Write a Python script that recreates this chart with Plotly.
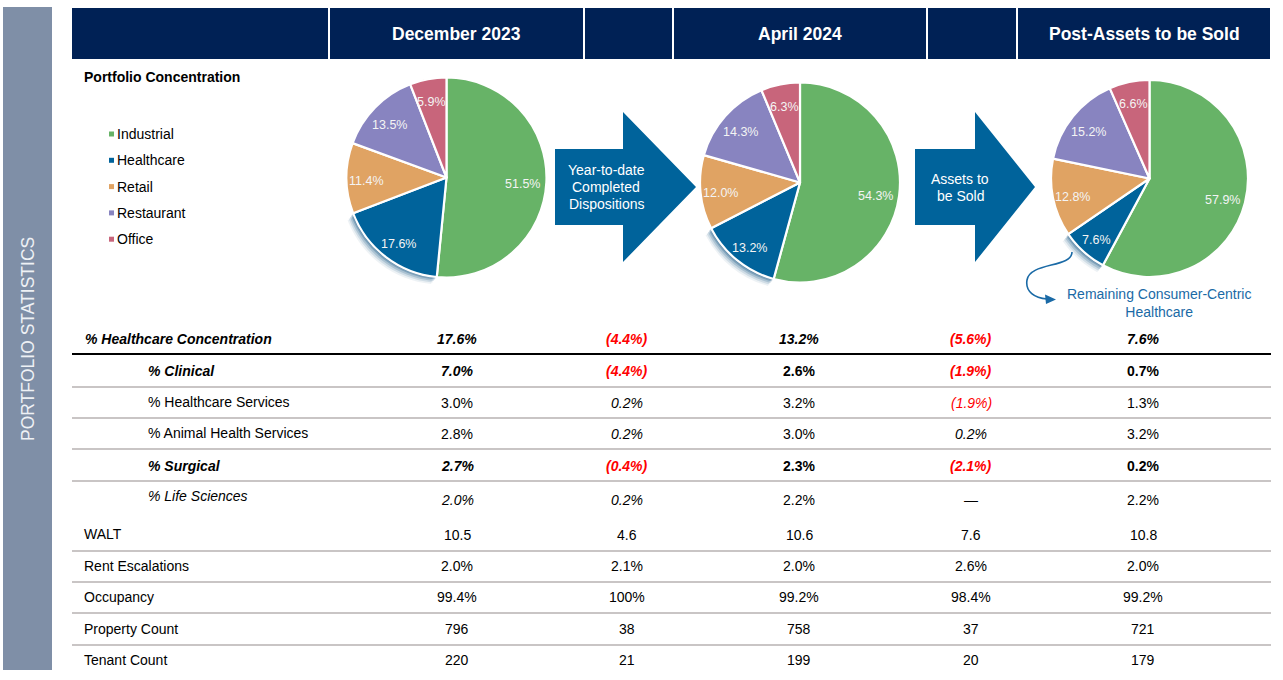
import math
import plotly.graph_objects as go

W, H = 1283, 680
FONT = "Liberation Sans, Arial, sans-serif"

# ---------------- data ----------------
sectors = ["Industrial", "Healthcare", "Retail", "Restaurant", "Office"]
sector_colors = ["#67B367", "#00639B", "#E0A363", "#8884C0", "#C8657B"]

period_titles = ["December 2023", "April 2024", "Post-Assets to be Sold"]
mix_dec_2023 = [51.5, 17.6, 11.4, 13.5, 5.9]
mix_apr_2024 = [54.3, 13.2, 12.0, 14.3, 6.3]
mix_post_sale = [57.9, 7.6, 12.8, 15.2, 6.6]

arrow_labels = [["Year-to-date", "Completed", "Dispositions"], ["Assets to", "be Sold"]]
callout_label = "Remaining Consumer-Centric<br>Healthcare"
section_title = "Portfolio Concentration"
side_title = "PORTFOLIO STATISTICS"

row_labels = ["% Healthcare Concentration", "% Clinical", "% Healthcare Services",
              "% Animal Health Services", "% Surgical", "% Life Sciences", "WALT",
              "Rent Escalations", "Occupancy", "Property Count", "Tenant Count"]
col_dec_2023 = ["17.6%", "7.0%", "3.0%", "2.8%", "2.7%", "2.0%", "10.5", "2.0%", "99.4%", "796", "220"]
col_ytd_disp = ["(4.4%)", "(4.4%)", "0.2%", "0.2%", "(0.4%)", "0.2%", "4.6", "2.1%", "100%", "38", "21"]
col_apr_2024 = ["13.2%", "2.6%", "3.2%", "3.0%", "2.3%", "2.2%", "10.6", "2.0%", "99.2%", "758", "199"]
col_to_sell = ["(5.6%)", "(1.9%)", "(1.9%)", "0.2%", "(2.1%)", "\u2014", "7.6", "2.6%", "98.4%", "37", "20"]
col_post_sale = ["7.6%", "0.7%", "1.3%", "3.2%", "0.2%", "2.2%", "10.8", "2.0%", "99.2%", "721", "179"]

# ---------------- styles / layout ----------------
NAVY = "#002155"
ARROW = "#00639B"
SIDE = "#7F8FA7"
GRID = "#C9C5C5"
RED = "#FF0000"

label_style = ["bi", "bi", "", "", "bi", "i", "", "", "", "", ""]
value_style = [
    ["bi", "bi", "bi", "bi", "bi"],
    ["bi", "bi", "b", "bi", "b"],
    ["", "i", "", "i", ""],
    ["", "i", "", "i", ""],
    ["bi", "bi", "b", "bi", "b"],
    ["i", "i", "", "", ""],
] + [[""] * 5 for _ in range(5)]
row_y_label = [339, 371, 402, 433, 466, 496, 534, 566, 597, 629, 660]
row_y_value = [339, 371, 403, 434, 466, 500, 535, 566, 597, 629, 660]
label_x = [83, 146, 146, 146, 146, 146, 82, 82, 82, 82, 82]
col_x = [457, 627, 799, 971, 1143]
black_rule_y = 354
grey_rule_y = [387, 418, 449, 481, 551, 582, 613, 645]

header_boxes = [(72, 328), (330, 583), (585, 672), (674, 926), (928, 1016), (1018, 1270)]
title_boxes = [1, 3, 5]
pie_geom = [(446.5, 177.5, 100), (800, 182.5, 100), (1149.5, 178.5, 98.5)]


def styl(t, s):
    if "i" in s:
        t = "<i>" + t + "</i>"
    if "b" in s:
        t = "<b>" + t + "</b>"
    return t


fig = go.Figure()
# invisible trace so the pixel-coordinate axes exist
fig.add_trace(go.Scatter(x=[0, W], y=[0, H], mode="markers", marker=dict(opacity=0),
                         hoverinfo="skip", showlegend=False))
shapes = []
ann = []

# side bar
shapes.append(dict(type="rect", x0=3, x1=52, y0=7, y1=670, fillcolor=SIDE, line_width=0, layer="below"))
ann.append(dict(x=28, y=339, text=side_title, textangle=-90, showarrow=False,
                font=dict(family=FONT, size=17.5, color="#EEF1F5")))

# header
for i, (x0, x1) in enumerate(header_boxes):
    shapes.append(dict(type="rect", x0=x0, x1=x1, y0=8, y1=59, fillcolor=NAVY, line_width=0))
for t, bi in zip(period_titles, title_boxes):
    x0, x1 = header_boxes[bi]
    ann.append(dict(x=(x0 + x1) / 2, y=34, text="<b>" + t + "</b>", showarrow=False,
                    font=dict(family=FONT, size=17.5, color="white")))

ann.append(dict(x=82, y=77, text="<b>" + section_title + "</b>", showarrow=False, xanchor="left",
                font=dict(family=FONT, size=14, color="black")))

# legend
for i, (s, c) in enumerate(zip(sectors, sector_colors)):
    yy = 134 + i * 26.3
    shapes.append(dict(type="rect", x0=109, x1=114, y0=yy - 2.5, y1=yy + 2.5, fillcolor=c, line_width=0))
    ann.append(dict(x=115, y=yy, text=s, showarrow=False, xanchor="left",
                    font=dict(family=FONT, size=14, color="black")))

# pies
mixes = [mix_dec_2023, mix_apr_2024, mix_post_sale]
for vals, (cx, cy, r) in zip(mixes, pie_geom):
    # soft shadow under the healthcare slice
    for off, a in [(7, 0.07), (5.5, 0.12), (4, 0.18), (2.5, 0.26), (1.2, 0.32)]:
        dx, dy = -off * 0.8, off
        cols = ["rgba(0,0,0,0)"] * len(vals)
        cols[1] = "rgba(0,70,120,%.2f)" % a
        fig.add_trace(go.Pie(values=vals, labels=sectors, sort=False, direction="clockwise", rotation=0,
                             marker=dict(colors=cols, line=dict(width=0)), textinfo="none",
                             hoverinfo="skip", showlegend=False,
                             domain=dict(x=[(cx + dx - r) / W, (cx + dx + r) / W],
                                         y=[1 - (cy + dy + r) / H, 1 - (cy + dy - r) / H])))
    fig.add_trace(go.Pie(values=vals, labels=sectors, sort=False, direction="clockwise", rotation=0,
                         marker=dict(colors=sector_colors, line=dict(width=2.2, color="white")),
                         textinfo="none", showlegend=False,
                         domain=dict(x=[(cx - r) / W, (cx + r) / W], y=[1 - (cy + r) / H, 1 - (cy - r) / H])))
    tot = sum(vals)
    cum = 0
    for v in vals:
        m = (cum + v / 2) / tot
        cum += v
        th = math.radians(90 - 360 * m)
        rr = (0.76 if v > 40 else 0.8) * r
        ann.append(dict(x=cx + rr * math.cos(th), y=cy - rr * math.sin(th) + 3,
                        text="%.1f%%" % v, showarrow=False,
                        font=dict(family=FONT, size=12.5, color="#F4F4F4")))

# arrows
arrow_geo = [(555, 623, 696), (915, 975, 1035)]
arrow_text_x = [606, 960]
for (xa, xb, xt), lines, tx in zip(arrow_geo, arrow_labels, arrow_text_x):
    shapes.append(dict(type="path",
                       path=f"M {xa} 149 L {xb} 149 L {xb} 112 L {xt} 187 L {xb} 262 L {xb} 225 L {xa} 225 Z",
                       fillcolor=ARROW, line_width=0))
    n = len(lines)
    for k, ln in enumerate(lines):
        ann.append(dict(x=tx, y=187 + (k - (n - 1) / 2) * 17, text=ln, showarrow=False,
                        font=dict(family=FONT, size=14, color="white")))

# callout
CALL = "#1A6AA6"
shapes.append(dict(type="path", path="M 1072 252 C 1072 268, 1030 262, 1027 280 C 1025 292, 1035 298, 1047 299",
                   line=dict(color=CALL, width=1.6)))
shapes.append(dict(type="path", path="M 1056 299.5 L 1045 294.5 L 1046 304 Z", fillcolor=CALL, line_width=0))
ann.append(dict(x=1159, y=303, text=callout_label, showarrow=False,
                font=dict(family=FONT, size=14, color=CALL)))

# table
cols = [col_dec_2023, col_ytd_disp, col_apr_2024, col_to_sell, col_post_sale]
for i, lab in enumerate(row_labels):
    ann.append(dict(x=label_x[i], y=row_y_label[i], text=styl(lab, label_style[i]), showarrow=False,
                    xanchor="left", font=dict(family=FONT, size=14, color="black")))
    for j, col in enumerate(cols):
        v = col[i]
        ann.append(dict(x=col_x[j], y=row_y_value[i], text=styl(v, value_style[i][j]), showarrow=False,
                        font=dict(family=FONT, size=14, color=RED if v.startswith("(") else "black")))

shapes.append(dict(type="line", x0=72, x1=1271, y0=black_rule_y, y1=black_rule_y, line=dict(color="black", width=2)))
for yy in grey_rule_y:
    shapes.append(dict(type="line", x0=72, x1=1271, y0=yy, y1=yy, line=dict(color=GRID, width=2)))

fig.update_layout(
    width=W, height=H, margin=dict(l=0, r=0, t=0, b=0),
    paper_bgcolor="white", plot_bgcolor="white",
    xaxis=dict(range=[0, W], visible=False, fixedrange=True, domain=[0, 1]),
    yaxis=dict(range=[H, 0], visible=False, fixedrange=True, domain=[0, 1]),
    shapes=shapes, annotations=ann, showlegend=False,
)
fig.write_html("out.html", config={"displayModeBar": False},
               post_script="document.body.style.margin='0';document.body.style.overflow='hidden';")
